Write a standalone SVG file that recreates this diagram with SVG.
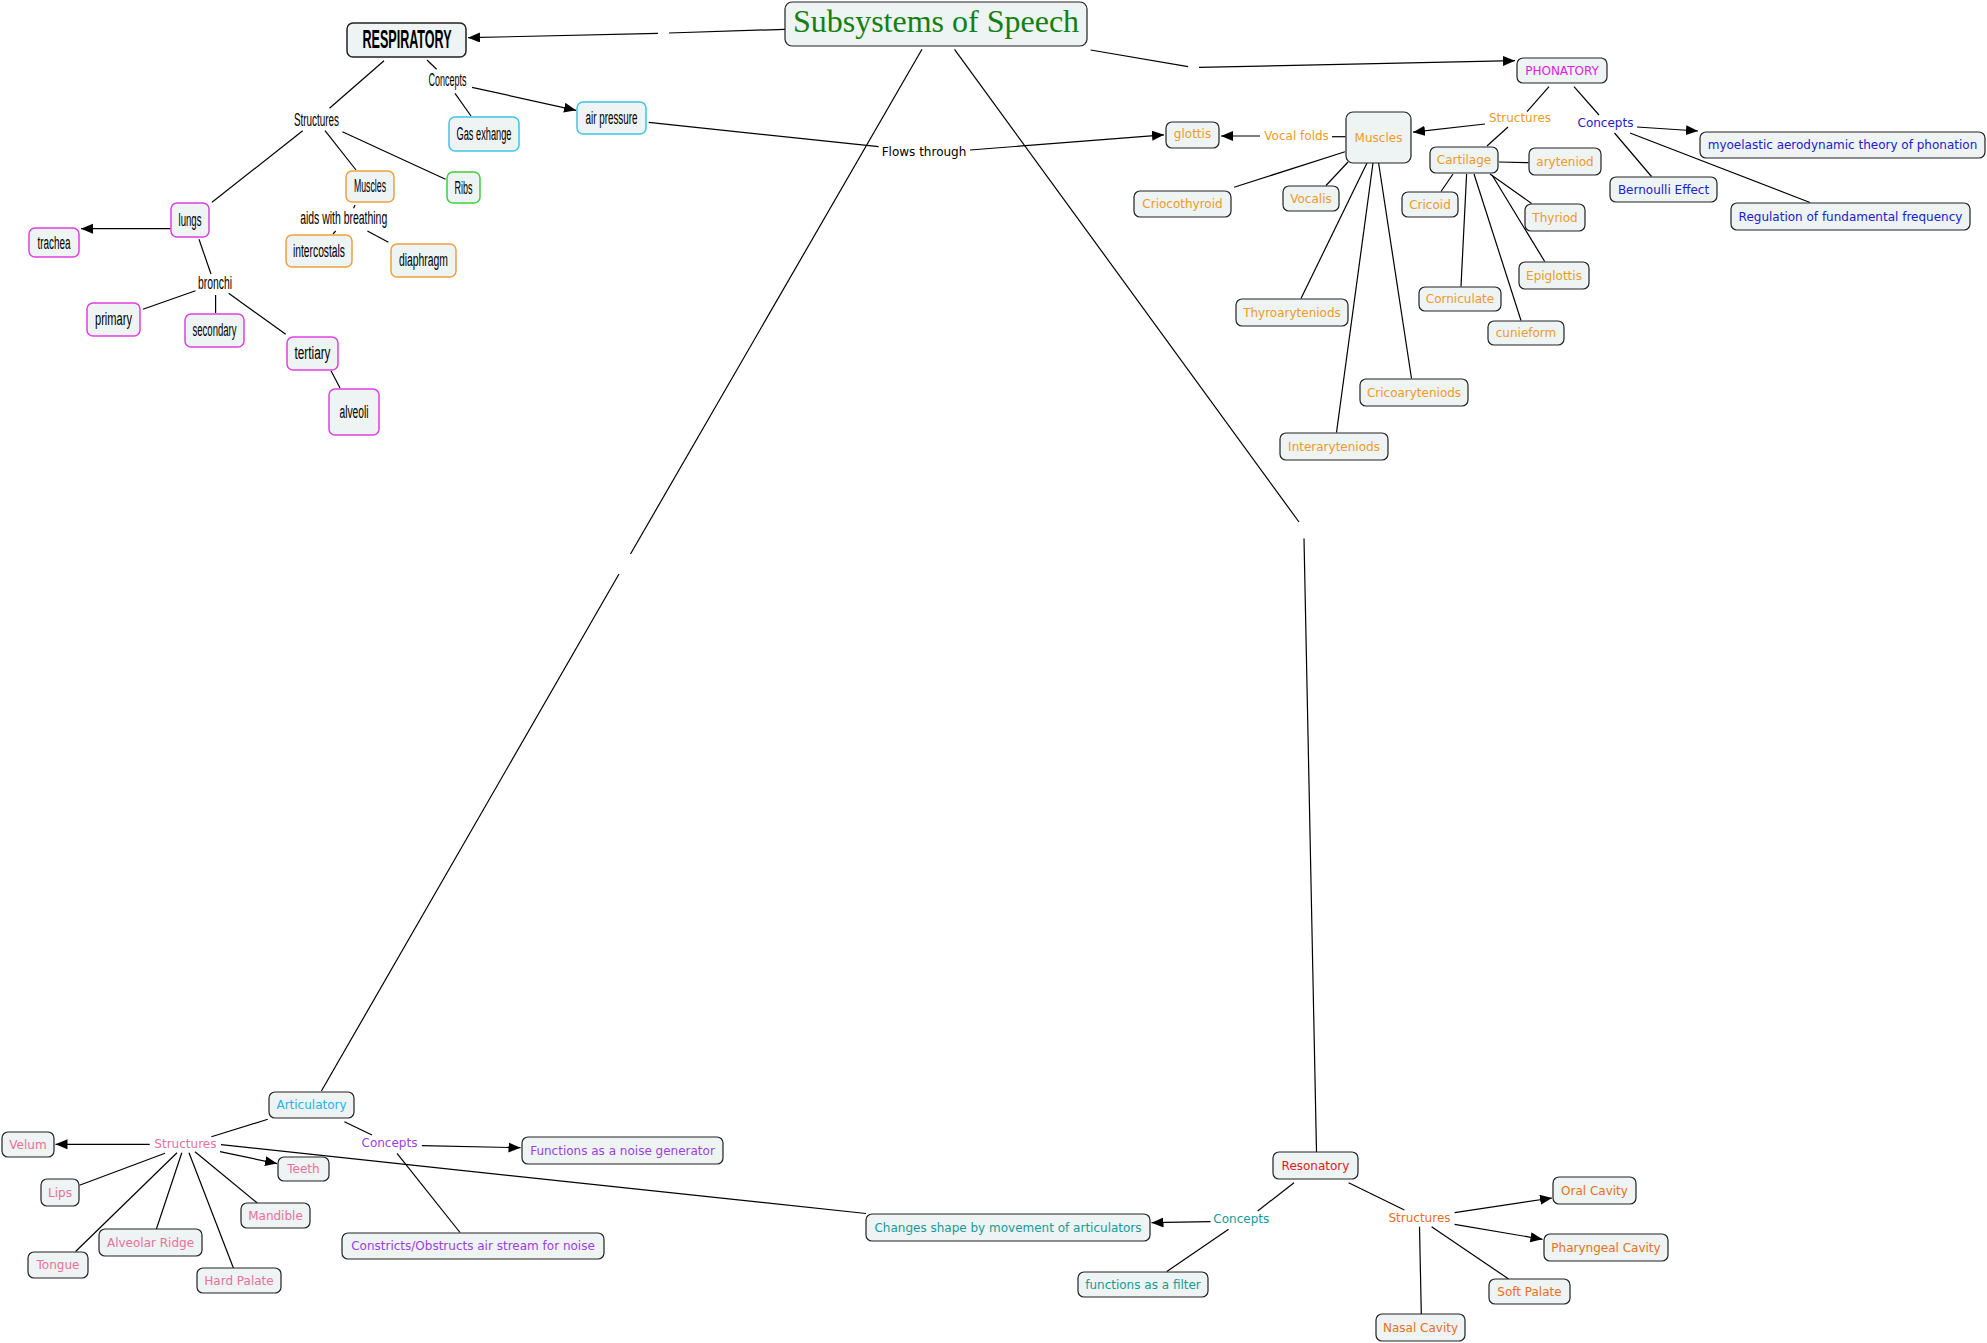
<svg xmlns="http://www.w3.org/2000/svg" width="1987" height="1343" viewBox="0 0 1987 1343">
<style>
.n{fill:#eef3f3;stroke:#222;stroke-width:1.2}
.rb{fill:#eef3f3;stroke-width:1.5}
.t{font-family:"DejaVu Sans","Verdana",sans-serif;font-size:12px;text-anchor:middle}
.r{font-family:"Liberation Sans Narrow","Liberation Sans",sans-serif;font-size:18px;text-anchor:middle;fill:#000}
.c line,.c polyline{stroke:#000;stroke-width:1.2;fill:none}
.a{marker-end:url(#ah)}
.mag{stroke:#e040e0}.cya{stroke:#40c4e8}.ora{stroke:#f0a040}.grn{stroke:#40d040}
.po{fill:#ee9a28}.pb{fill:#2020cc}.ap{fill:#e8709a}.av{fill:#9b3fe0}.rt{fill:#159a9a}.ro{fill:#e87020}
</style>
<defs>
<marker id="ah" markerUnits="userSpaceOnUse" markerWidth="13" markerHeight="11" refX="12" refY="5" orient="auto"><path d="M0,0 L12,5 L0,10 z" fill="#000"/></marker>
</defs>
<rect width="1987" height="1343" fill="#fff"/>
<g class="c" id="connectors">
<!-- title -> respiratory -->
<line x1="785" y1="29.3" x2="669" y2="33"/>
<line class="a" x1="658" y1="33.3" x2="468" y2="37.7"/>
<!-- title -> phonatory -->
<line x1="1090.6" y1="50" x2="1188" y2="66.7"/>
<line class="a" x1="1199" y1="67.3" x2="1515" y2="60.7"/>
<!-- title -> articulatory -->
<line x1="922" y1="49.3" x2="630.5" y2="554"/>
<line x1="619" y1="574" x2="321.4" y2="1091"/>
<!-- title -> resonatory -->
<line x1="954.5" y1="49.3" x2="1299" y2="522"/>
<line x1="1304" y1="538.6" x2="1316.5" y2="1152"/>
<!-- respiratory -->
<line x1="427" y1="60" x2="436.6" y2="69.3"/>
<line x1="455" y1="93.3" x2="471" y2="116"/>
<line class="a" x1="472" y1="87.3" x2="576" y2="110.3"/>
<line x1="648.7" y1="122.3" x2="878.6" y2="146.7"/>
<line class="a" x1="970" y1="150" x2="1164" y2="134.8"/>
<line x1="384" y1="60.7" x2="329.5" y2="108.3"/>
<line x1="302.7" y1="130.7" x2="212" y2="202.3"/>
<line x1="325" y1="130.7" x2="356" y2="170"/>
<line x1="342.4" y1="131.7" x2="445.5" y2="179.3"/>
<line x1="355" y1="205" x2="353.6" y2="208.3"/>
<line x1="335.7" y1="231" x2="333" y2="234"/>
<line x1="367.4" y1="231" x2="388.4" y2="242.3"/>
<line class="a" x1="170.5" y1="228.7" x2="81" y2="228.7"/>
<line x1="199" y1="239.3" x2="211" y2="274"/>
<line x1="195.5" y1="290.7" x2="142.9" y2="309.3"/>
<line x1="215.6" y1="295" x2="215.6" y2="313"/>
<line x1="228.6" y1="293.3" x2="285.7" y2="334.3"/>
<line x1="331" y1="370.7" x2="340" y2="388"/>
<!-- phonatory -->
<line x1="1549" y1="86.7" x2="1527" y2="111.7"/>
<line class="a" x1="1485" y1="124" x2="1413" y2="132.2"/>
<line x1="1574" y1="86.7" x2="1599" y2="115"/>
<line class="a" x1="1637" y1="127" x2="1698" y2="131"/>
<line x1="1614.5" y1="133" x2="1651.5" y2="176.5"/>
<line x1="1630" y1="133" x2="1810" y2="202.5"/>
<line x1="1508" y1="127" x2="1487" y2="146"/>
<line x1="1499" y1="162" x2="1528.5" y2="162.7"/>
<line x1="1453" y1="174" x2="1441" y2="191.5"/>
<line x1="1490" y1="174" x2="1531.6" y2="203.5"/>
<line x1="1492" y1="175" x2="1544.7" y2="261.5"/>
<line x1="1474" y1="174" x2="1521" y2="320.5"/>
<line x1="1466.6" y1="174" x2="1461" y2="286.5"/>
<line class="a" x1="1260" y1="136" x2="1221" y2="136"/>
<line x1="1332" y1="136.7" x2="1345.5" y2="136.7"/>
<line x1="1345" y1="151.7" x2="1234" y2="187.3"/>
<line x1="1348" y1="162" x2="1326" y2="185.5"/>
<line x1="1367" y1="163" x2="1301" y2="298.5"/>
<line x1="1373" y1="163" x2="1336.5" y2="432.5"/>
<line x1="1378.6" y1="163" x2="1411.5" y2="378.5"/>
<!-- articulatory -->
<line x1="267.8" y1="1119.3" x2="211.4" y2="1136.7"/>
<line class="a" x1="149.7" y1="1144.3" x2="55.5" y2="1144.3"/>
<line class="a" x1="220" y1="1151.7" x2="277" y2="1163.6"/>
<line x1="165" y1="1153.3" x2="79.5" y2="1185.3"/>
<line x1="177" y1="1152.7" x2="75.6" y2="1251.5"/>
<line x1="181.8" y1="1152.7" x2="156.4" y2="1229"/>
<line x1="189" y1="1152.7" x2="233.4" y2="1268"/>
<line x1="195" y1="1151.7" x2="257.3" y2="1203"/>
<line x1="344.4" y1="1121.7" x2="372" y2="1135"/>
<line class="a" x1="421.9" y1="1145.7" x2="520.5" y2="1147.7"/>
<line x1="397" y1="1153.3" x2="460" y2="1232.5"/>
<line x1="221" y1="1144.7" x2="866" y2="1213.5"/>
<!-- resonatory -->
<line x1="1294" y1="1182.7" x2="1257.7" y2="1211"/>
<line class="a" x1="1210.5" y1="1221.7" x2="1151.5" y2="1222.7"/>
<line x1="1228.6" y1="1229.3" x2="1166.8" y2="1271.5"/>
<line x1="1348.6" y1="1182.7" x2="1404.4" y2="1210"/>
<line class="a" x1="1454.6" y1="1212.7" x2="1552" y2="1198"/>
<line class="a" x1="1454.6" y1="1224.3" x2="1542.5" y2="1239.3"/>
<line x1="1431.6" y1="1226.7" x2="1508.6" y2="1279"/>
<line x1="1419.5" y1="1226.7" x2="1421.3" y2="1314"/>
</g>
<g id="title"><rect class="n" x="785" y="2" width="302" height="44" rx="7"/><text x="936" y="32" font-family="'Liberation Serif',serif" font-size="32" fill="#128012" text-anchor="middle">Subsystems of Speech</text></g>
<g id="respiratory"><rect class="n" x="347" y="23" width="119" height="34" rx="6" style="stroke-width:1.5"/><text x="407" y="48.3" font-family="'Liberation Sans Narrow','Liberation Sans',sans-serif" font-size="25" font-weight="bold" text-anchor="middle" textLength="89" lengthAdjust="spacingAndGlyphs">RESPIRATORY</text></g>
<g id="resp-concepts"><text class="r" x="447.5" y="86" textLength="38" lengthAdjust="spacingAndGlyphs">Concepts</text></g>
<g id="gas-exchange"><rect class="rb cya" x="449" y="117" width="70" height="34" rx="6"/><text class="r" x="484" y="140" textLength="55" lengthAdjust="spacingAndGlyphs">Gas exhange</text></g>
<g id="air-pressure"><rect class="rb cya" x="577" y="102" width="69" height="32" rx="6"/><text class="r" x="611.5" y="124" textLength="52" lengthAdjust="spacingAndGlyphs">air pressure</text></g>
<g id="resp-structures"><text class="r" x="316.4" y="126" textLength="45" lengthAdjust="spacingAndGlyphs">Structures</text></g>
<g id="resp-muscles"><rect class="rb ora" x="346" y="171" width="48" height="31" rx="6"/><text class="r" x="370" y="192" textLength="32" lengthAdjust="spacingAndGlyphs">Muscles</text></g>
<g id="ribs"><rect class="rb grn" x="447" y="172" width="33" height="31" rx="6"/><text class="r" x="463.5" y="193.5" textLength="18" lengthAdjust="spacingAndGlyphs">Ribs</text></g>
<g id="aids"><text class="r" x="343.7" y="224.3" textLength="87" lengthAdjust="spacingAndGlyphs">aids with breathing</text></g>
<g id="intercostals"><rect class="rb ora" x="286" y="235" width="66" height="32" rx="6"/><text class="r" x="319" y="257" textLength="52" lengthAdjust="spacingAndGlyphs">intercostals</text></g>
<g id="diaphragm"><rect class="rb ora" x="391" y="244" width="65" height="33" rx="6"/><text class="r" x="423.5" y="266" textLength="49" lengthAdjust="spacingAndGlyphs">diaphragm</text></g>
<g id="lungs"><rect class="rb mag" x="171" y="203" width="38" height="34" rx="6"/><text class="r" x="190" y="226" textLength="23" lengthAdjust="spacingAndGlyphs">lungs</text></g>
<g id="trachea"><rect class="rb mag" x="29" y="228" width="50" height="29" rx="6"/><text class="r" x="54" y="249" textLength="33" lengthAdjust="spacingAndGlyphs">trachea</text></g>
<g id="bronchi"><text class="r" x="215" y="289" textLength="34" lengthAdjust="spacingAndGlyphs">bronchi</text></g>
<g id="primary"><rect class="rb mag" x="87" y="303" width="53" height="33" rx="6"/><text class="r" x="113.5" y="325" textLength="37" lengthAdjust="spacingAndGlyphs">primary</text></g>
<g id="secondary"><rect class="rb mag" x="185" y="314" width="59" height="33" rx="6"/><text class="r" x="214.5" y="336" textLength="44" lengthAdjust="spacingAndGlyphs">secondary</text></g>
<g id="tertiary"><rect class="rb mag" x="287" y="337" width="51" height="33" rx="6"/><text class="r" x="312.5" y="359" textLength="36" lengthAdjust="spacingAndGlyphs">tertiary</text></g>
<g id="alveoli"><rect class="rb mag" x="329" y="389" width="50" height="46" rx="6"/><text class="r" x="354" y="418" textLength="29" lengthAdjust="spacingAndGlyphs">alveoli</text></g>
<g id="flows-through"><text class="t" x="924" y="156">Flows through</text></g>
<g id="phonatory"><rect class="n" x="1517" y="58" width="90" height="25" rx="6"/><text class="t" x="1562" y="75" fill="#e020e0">PHONATORY</text></g>
<g id="phon-structures"><text class="t po" x="1520" y="122.3">Structures</text></g>
<g id="phon-concepts"><text class="t pb" x="1605.5" y="127">Concepts</text></g>
<g id="myoelastic"><rect class="n" x="1700" y="132" width="285" height="26" rx="6"/><text class="t pb" x="1842.5" y="149.3">myoelastic aerodynamic theory of phonation</text></g>
<g id="bernoulli"><rect class="n" x="1610" y="177" width="107" height="25" rx="6"/><text class="t pb" x="1663.5" y="194">Bernoulli Effect</text></g>
<g id="regulation"><rect class="n" x="1731" y="203" width="239" height="27" rx="6"/><text class="t pb" x="1850.5" y="220.8">Regulation of fundamental frequency</text></g>
<g id="phon-muscles"><rect class="n" x="1346" y="112" width="65" height="51" rx="7"/><text class="t po" x="1378.5" y="141.8">Muscles</text></g>
<g id="vocal-folds"><text class="t po" x="1296.6" y="140.3">Vocal folds</text></g>
<g id="glottis"><rect class="n" x="1166" y="122" width="53" height="26" rx="6"/><text class="t po" x="1192.5" y="138">glottis</text></g>
<g id="criocothyroid"><rect class="n" x="1134" y="191" width="97" height="26" rx="6"/><text class="t po" x="1182.5" y="208.3">Criocothyroid</text></g>
<g id="vocalis"><rect class="n" x="1283" y="186" width="56" height="25" rx="6"/><text class="t po" x="1311" y="202.8">Vocalis</text></g>
<g id="cartilage"><rect class="n" x="1430" y="147" width="68" height="26" rx="6"/><text class="t po" x="1464" y="164.3">Cartilage</text></g>
<g id="aryteniod"><rect class="n" x="1529" y="148" width="72" height="27" rx="6"/><text class="t po" x="1565" y="165.8">aryteniod</text></g>
<g id="cricoid"><rect class="n" x="1402" y="192" width="56" height="25" rx="6"/><text class="t po" x="1430" y="208.8">Cricoid</text></g>
<g id="thyriod"><rect class="n" x="1525" y="204" width="60" height="27" rx="6"/><text class="t po" x="1555" y="221.8">Thyriod</text></g>
<g id="epiglottis"><rect class="n" x="1519" y="262" width="70" height="27" rx="6"/><text class="t po" x="1554" y="279.8">Epiglottis</text></g>
<g id="corniculate"><rect class="n" x="1419" y="287" width="82" height="24" rx="6"/><text class="t po" x="1460" y="303.3">Corniculate</text></g>
<g id="cunieform"><rect class="n" x="1488" y="321" width="76" height="24" rx="6"/><text class="t po" x="1526" y="337.3">cunieform</text></g>
<g id="thyroaryteniods"><rect class="n" x="1236" y="299" width="112" height="27" rx="6"/><text class="t po" x="1292" y="316.8">Thyroaryteniods</text></g>
<g id="cricoaryteniods"><rect class="n" x="1360" y="379" width="108" height="27" rx="6"/><text class="t po" x="1414" y="396.8">Cricoaryteniods</text></g>
<g id="interaryteniods"><rect class="n" x="1280" y="433" width="108" height="27" rx="6"/><text class="t po" x="1334" y="450.8">Interaryteniods</text></g>
<g id="articulatory"><rect class="n" x="269" y="1092" width="85" height="26" rx="6"/><text class="t" x="311.5" y="1109.3" fill="#22b4e4">Articulatory</text></g>
<g id="art-structures"><text class="t ap" x="185.4" y="1148.3">Structures</text></g>
<g id="art-concepts"><text class="t av" x="389.5" y="1147">Concepts</text></g>
<g id="velum"><rect class="n" x="2" y="1132" width="52" height="25" rx="6"/><text class="t ap" x="28" y="1148.8">Velum</text></g>
<g id="teeth"><rect class="n" x="278" y="1157" width="51" height="24" rx="6"/><text class="t ap" x="303.5" y="1173.3">Teeth</text></g>
<g id="lips"><rect class="n" x="41" y="1179" width="38" height="27" rx="6"/><text class="t ap" x="60" y="1196.8">Lips</text></g>
<g id="tongue"><rect class="n" x="28" y="1252" width="60" height="26" rx="6"/><text class="t ap" x="58" y="1269.3">Tongue</text></g>
<g id="alveolar-ridge"><rect class="n" x="99" y="1229" width="103" height="27" rx="6"/><text class="t ap" x="150.5" y="1246.8">Alveolar Ridge</text></g>
<g id="hard-palate"><rect class="n" x="197" y="1268" width="84" height="25" rx="6"/><text class="t ap" x="239" y="1284.8">Hard Palate</text></g>
<g id="mandible"><rect class="n" x="241" y="1203" width="69" height="25" rx="6"/><text class="t ap" x="275.5" y="1219.8">Mandible</text></g>
<g id="noise-generator"><rect class="n" x="522" y="1137" width="201" height="27" rx="6"/><text class="t av" x="622.5" y="1154.8">Functions as a noise generator</text></g>
<g id="constricts"><rect class="n" x="342" y="1233" width="262" height="26" rx="6"/><text class="t av" x="473" y="1250.3">Constricts/Obstructs air stream for noise</text></g>
<g id="resonatory"><rect class="n" x="1273" y="1152" width="85" height="27" rx="6"/><text class="t" x="1315.5" y="1169.8" fill="#e01a1a">Resonatory</text></g>
<g id="res-concepts"><text class="t rt" x="1241.3" y="1223.3">Concepts</text></g>
<g id="res-structures"><text class="t ro" x="1419.5" y="1222">Structures</text></g>
<g id="changes-shape"><rect class="n" x="866" y="1214" width="284" height="27" rx="6"/><text class="t rt" x="1008" y="1231.8">Changes shape by movement of articulators</text></g>
<g id="filter"><rect class="n" x="1078" y="1272" width="130" height="25" rx="6"/><text class="t rt" x="1143" y="1288.8">functions as a filter</text></g>
<g id="oral-cavity"><rect class="n" x="1553" y="1177" width="83" height="27" rx="6"/><text class="t ro" x="1594.5" y="1194.8">Oral Cavity</text></g>
<g id="pharyngeal-cavity"><rect class="n" x="1544" y="1234" width="124" height="27" rx="6"/><text class="t ro" x="1606" y="1251.8">Pharyngeal Cavity</text></g>
<g id="soft-palate"><rect class="n" x="1489" y="1279" width="81" height="25" rx="6"/><text class="t ro" x="1529.5" y="1295.8">Soft Palate</text></g>
<g id="nasal-cavity"><rect class="n" x="1376" y="1314" width="89" height="27" rx="6"/><text class="t ro" x="1420.5" y="1331.8">Nasal Cavity</text></g>
</svg>
